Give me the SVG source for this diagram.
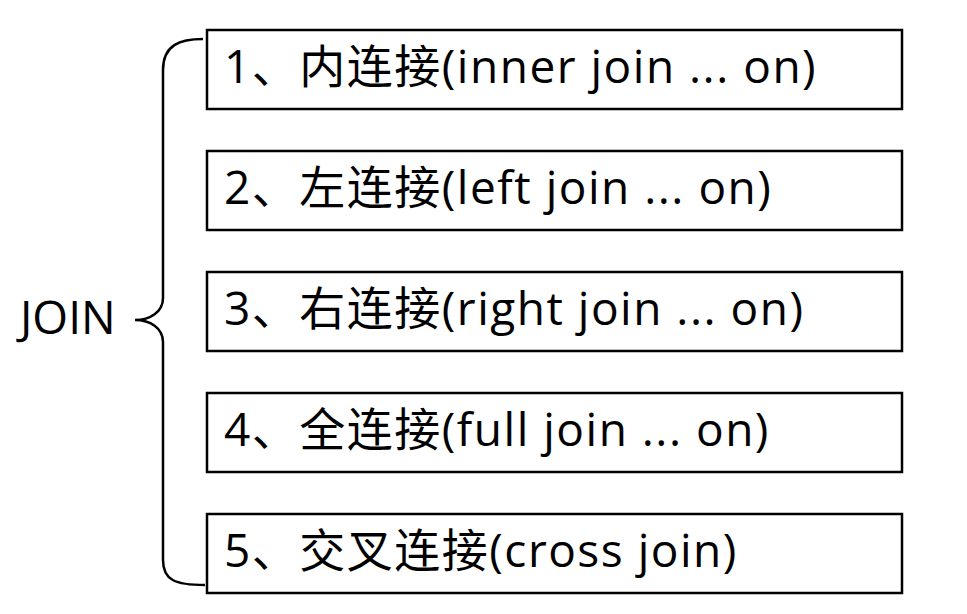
<svg xmlns="http://www.w3.org/2000/svg" width="967" height="614" viewBox="0 0 967 614">
<style>
.box{fill:#fff;stroke:#000;stroke-width:2.5}
.t{font-family:"Open Sans","Noto Sans CJK SC",sans-serif;font-size:46px;fill:#000;letter-spacing:1.5px}
.j{font-family:"Open Sans",sans-serif;font-size:46px;fill:#000}
.br{fill:none;stroke:#000;stroke-width:2.5}
</style>
<rect width="967" height="614" fill="#fff"/>
<g id="join"><text class="j" x="20" y="334">JOIN</text></g>
<g id="connectors">
<path class="br" d="M203,39 C180,39 163,45 163,70 L163,298 C163,312 150,320 135,320 C150,320 163,328 163,342 L163,560 C163,580 175,585 205,585"/>
</g>
<g id="n1"><rect class="box" x="207" y="30" width="695" height="79"/><text class="t" x="224" y="83">1、内连接(inner join ... on)</text></g>
<g id="n2"><rect class="box" x="207" y="151" width="695" height="79"/><text class="t" x="224" y="204">2、左连接(left join ... on)</text></g>
<g id="n3"><rect class="box" x="207" y="272" width="695" height="79"/><text class="t" x="224" y="325">3、右连接(right join ... on)</text></g>
<g id="n4"><rect class="box" x="207" y="393" width="695" height="79"/><text class="t" x="224" y="446">4、全连接(full join ... on)</text></g>
<g id="n5"><rect class="box" x="207" y="514" width="695" height="79"/><text class="t" x="224" y="567">5、交叉连接(cross join)</text></g>
</svg>
